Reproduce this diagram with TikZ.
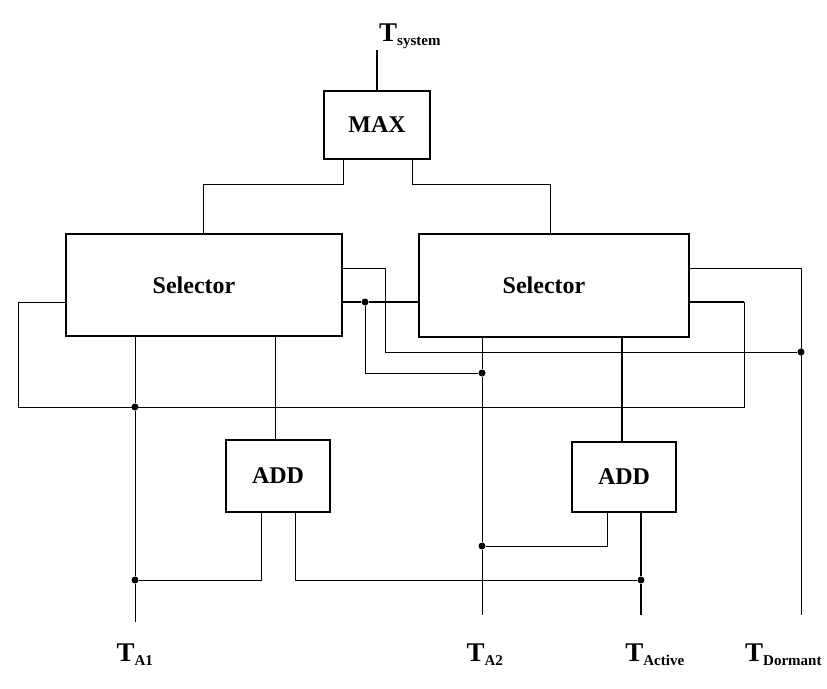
\documentclass[tikz,border=0pt]{standalone}
\usepackage{fontspec}
\setmainfont{Liberation Serif}
\begin{document}
\begin{tikzpicture}[x=1pt,y=-1pt,
  box/.style={draw,line width=1.6pt,minimum width=#1,inner sep=0pt,font=\bfseries\fontsize{24}{28}\selectfont},
  w/.style={line width=0.9pt},
  tw/.style={line width=1.8pt},
  dot/.style={circle,fill,inner sep=0pt,minimum size=7pt},
  lab/.style={font=\bfseries\fontsize{27}{30}\selectfont,inner sep=0pt}]
\useasboundingbox (0,0) rectangle (827,688);
\clip (0,0) rectangle (827,688);
\node[box=106pt,minimum height=68pt] (max) at (377,125) {MAX};
\node[box=276pt,minimum height=102pt] (s1) at (204,285) {};
\node at (194,285) {\bfseries\fontsize{24}{28}\selectfont Selector};
\node[box=270pt,minimum height=103pt] (s2) at (554,285.5) {};
\node at (544,285) {\bfseries\fontsize{24}{28}\selectfont Selector};
\node[box=104pt,minimum height=72pt] (a1) at (278,476) {ADD};
\node[box=104pt,minimum height=70pt] (a2) at (624,477) {ADD};
% dots
\node[dot] (d1) at (365,302) {};
\node[dot] (d2) at (482,373) {};
\node[dot] (d3) at (801,352) {};
\node[dot] (d4) at (135,407) {};
\node[dot] (d5) at (135,580) {};
\node[dot] (d6) at (641,580) {};
\node[dot] (d7) at (482,546) {};
% labels
\node[lab,anchor=west] (ts) at (379,36) {T\textsubscript{\fontsize{15}{16}\selectfont system}};
\node[lab] (ta1) at (135,655) {T\textsubscript{\fontsize{15}{16}\selectfont A1}};
\node[lab] (ta2) at (485,655) {T\textsubscript{\fontsize{15}{16}\selectfont A2}};
\node[lab] (tac) at (655,655) {T\textsubscript{\fontsize{15}{16}\selectfont Active}};
\node[lab,anchor=west] (tdo) at (745,655) {T\textsubscript{\fontsize{15}{16}\selectfont Dormant}};
\coordinate (ets) at (377,50);
% MAX wiring
\draw[tw] (max.north) -- (ets);
\draw[w] (343,159) -- (343,184) -- (203,184) -- (203,234);
\draw[w] (412,159) -- (412,184) -- (550,184) -- (550,234);
% selector cross wiring
\draw[w] (342,268) -- (385,268) -- (385,352) -- (d3);
\draw[w] (689,268) -- (801,268) -- (801,615);
\draw[tw] (342,302) -- (d1) -- (419,302);
\draw[w] (d1) -- (365,373) -- (d2);
\draw[tw] (689,302) -- (744,302);
\draw[w] (744,302) -- (744,407) -- (18,407) -- (18,302) -- (66,302);
% bottom wires
\draw[w] (135,336) -- (d4) -- (d5) -- (135,622);
\draw[w] (275,336) -- (275,440);
\draw[w] (482,337) -- (d2) -- (d7) -- (482,615);
\draw[tw] (622,337) -- (622,442);
\draw[w] (261,512) -- (261,580) -- (d5);
\draw[w] (295,512) -- (295,580) -- (d6);
\draw[w] (607,512) -- (607,546) -- (d7);
\draw[tw] (641,512) -- (d6) -- (641,615);
\end{tikzpicture}
\end{document}
